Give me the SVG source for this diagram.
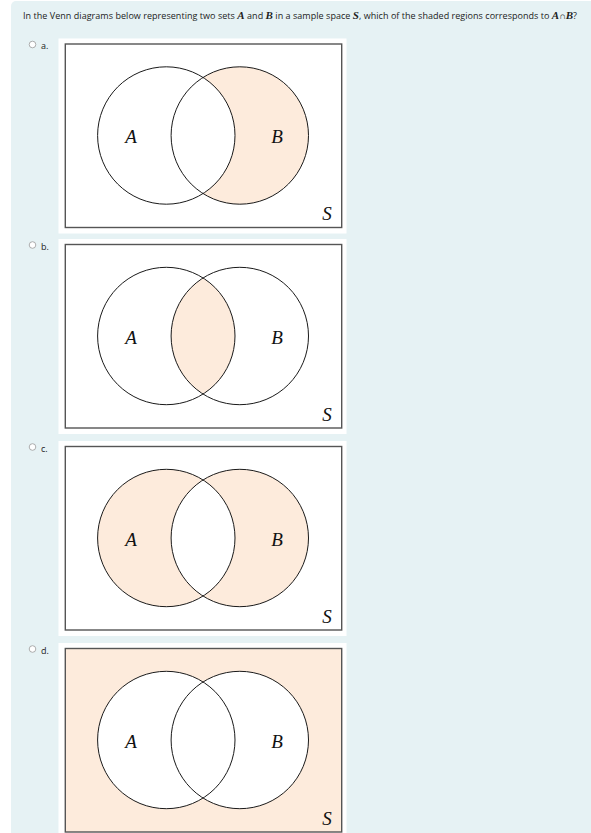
<svg xmlns="http://www.w3.org/2000/svg" width="591" height="833" viewBox="0 0 591 833">
<style>
.bg{fill:#e6f2f4}
.card{fill:#ffffff}
.frame{fill:#ffffff;stroke:#555555;stroke-width:1.4}
.frame.sh{fill:#fdebdc}
.ring{fill:none;stroke:#1a1a1a;stroke-width:1}
.sh{fill:#fdebdc}
.wh{fill:#ffffff}
.lbl{font-family:"Liberation Serif",serif;font-style:italic;font-size:19px;fill:#111;text-anchor:middle}
.q{font-family:"Open Sans","Liberation Sans",sans-serif;font-size:9px;fill:#222}
.m{font-family:"Liberation Serif",serif;font-style:italic;font-weight:bold;font-size:11px}
.radio{fill:#ffffff;stroke:#9a9a9a;stroke-width:0.8}
.opt{font-family:"Open Sans","Liberation Sans",sans-serif;font-size:9px;fill:#222}
</style>
<defs>
<clipPath id="clipA" clipPathUnits="userSpaceOnUse"><circle cx="166.3" cy="91.5" r="68.7"/></clipPath>
</defs>
<rect x="0" y="0" width="591" height="833" fill="#ffffff"/>
<rect class="bg" x="11" y="1" width="590" height="840" rx="5"/>
<text class="q" x="23" y="18.5" textLength="554" lengthAdjust="spacing">In the Venn diagrams below representing two sets <tspan class="m">A</tspan> and <tspan class="m">B</tspan> in a sample space <tspan class="m">S</tspan>, which of the shaded regions corresponds to <tspan class="m">A</tspan>∩<tspan class="m">B</tspan>?</text>

<g id="option-a" transform="translate(0,44)">
<circle class="radio" cx="32.5" cy="0.5" r="3.3"/>
<text class="opt" x="41" y="5">a.</text>
<rect class="card" x="58.5" y="-5.5" width="288" height="195"/>
<rect class="frame" x="65.3" y="0" width="276.4" height="183.5"/>
<circle class="sh" cx="239.8" cy="91.5" r="68.7"/>
<circle class="wh" cx="166.3" cy="91.5" r="68.7"/>
<circle class="ring" cx="166.3" cy="91.5" r="68.7"/>
<circle class="ring" cx="239.8" cy="91.5" r="68.7"/>
<text class="lbl" x="131" y="99">A</text>
<text class="lbl" x="277" y="99">B</text>
<text class="lbl" x="327" y="176">S</text>
</g>

<g id="option-b" transform="translate(0,244.5)">
<circle class="radio" cx="32.5" cy="0.5" r="3.3"/>
<text class="opt" x="41" y="5">b.</text>
<rect class="card" x="58.5" y="-5.5" width="288" height="195"/>
<rect class="frame" x="65.3" y="0" width="276.4" height="183.5"/>
<circle class="sh" cx="239.8" cy="91.5" r="68.7" clip-path="url(#clipA)"/>
<circle class="ring" cx="166.3" cy="91.5" r="68.7"/>
<circle class="ring" cx="239.8" cy="91.5" r="68.7"/>
<text class="lbl" x="131" y="99">A</text>
<text class="lbl" x="277" y="99">B</text>
<text class="lbl" x="327" y="176">S</text>
</g>

<g id="option-c" transform="translate(0,446.5)">
<circle class="radio" cx="32.5" cy="0.5" r="3.3"/>
<text class="opt" x="41" y="5">c.</text>
<rect class="card" x="58.5" y="-5.5" width="288" height="195"/>
<rect class="frame" x="65.3" y="0" width="276.4" height="183.5"/>
<circle class="sh" cx="166.3" cy="91.5" r="68.7"/>
<circle class="sh" cx="239.8" cy="91.5" r="68.7"/>
<circle class="wh" cx="239.8" cy="91.5" r="68.7" clip-path="url(#clipA)"/>
<circle class="ring" cx="166.3" cy="91.5" r="68.7"/>
<circle class="ring" cx="239.8" cy="91.5" r="68.7"/>
<text class="lbl" x="131" y="99">A</text>
<text class="lbl" x="277" y="99">B</text>
<text class="lbl" x="327" y="176">S</text>
</g>

<g id="option-d" transform="translate(0,648.5)">
<circle class="radio" cx="32.5" cy="0.5" r="3.3"/>
<text class="opt" x="41" y="5">d.</text>
<rect class="card" x="58.5" y="-5.5" width="288" height="195"/>
<rect class="frame sh" x="65.3" y="0" width="276.4" height="183.5"/>
<circle class="wh" cx="166.3" cy="91.5" r="68.7"/>
<circle class="wh" cx="239.8" cy="91.5" r="68.7"/>
<circle class="ring" cx="166.3" cy="91.5" r="68.7"/>
<circle class="ring" cx="239.8" cy="91.5" r="68.7"/>
<text class="lbl" x="131" y="99">A</text>
<text class="lbl" x="277" y="99">B</text>
<text class="lbl" x="327" y="176">S</text>
</g>
</svg>
